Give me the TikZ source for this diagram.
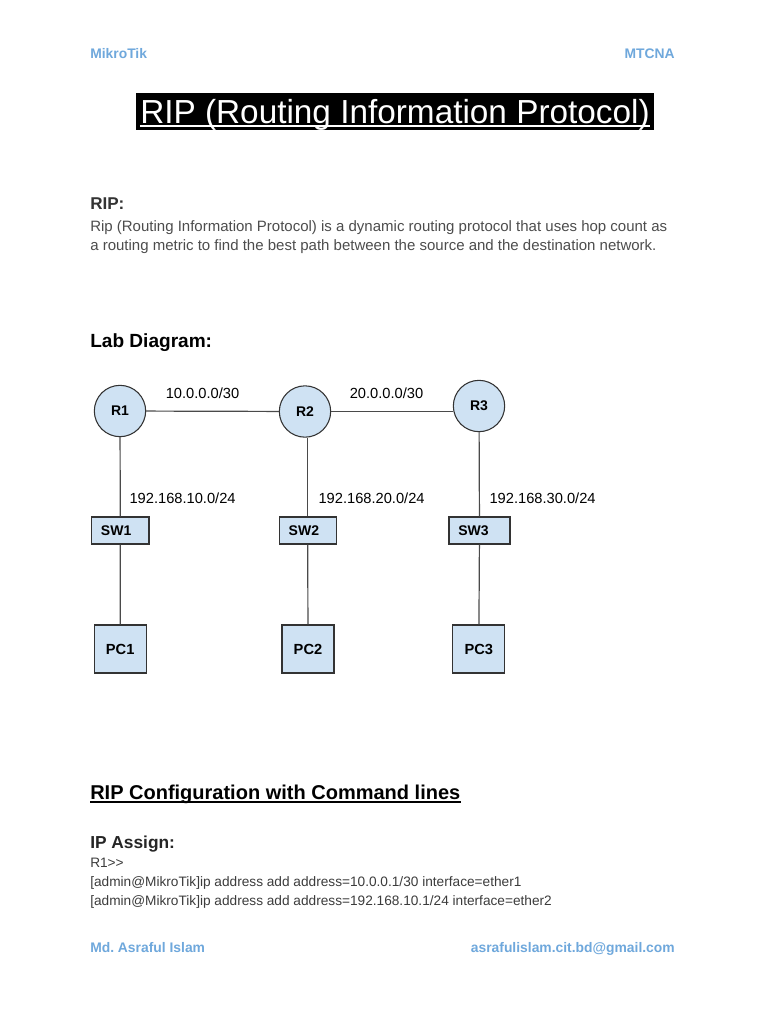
\documentclass[tikz,border=0pt]{standalone}
\usepackage{fontspec}
\setmainfont{Liberation Sans}
\usepackage{xcolor}
\usepackage{tikz}
\usetikzlibrary{positioning,calc}
\definecolor{hdrblue}{HTML}{6FA8DC}
\definecolor{nodefill}{HTML}{CFE2F3}
\definecolor{bodygray}{HTML}{4D4D4D}
\definecolor{headgray}{HTML}{333333}
\definecolor{cmdgray}{HTML}{3C3C3C}
\definecolor{linegray}{HTML}{4A4A4A}

\begin{document}
\begin{tikzpicture}[x=0.75pt, y=-0.75pt, every node/.style={inner sep=0pt},
  hdr/.style={font=\fontsize{10.4}{12}\selectfont\bfseries, text=hdrblue},
  bodytxt/.style={anchor=base west, font=\fontsize{11.25}{13}\selectfont, text=bodygray},
  cmdtxt/.style={anchor=base west, font=\fontsize{10.25}{12}\selectfont, text=cmdgray},
  router/.style={circle, draw=headgray, fill=nodefill, line width=0.8pt, minimum size=38.5pt,
                 font=\fontsize{10.5}{12}\selectfont\bfseries},
  switchbox/.style={draw=headgray, fill=nodefill, line width=0.8pt, minimum height=20.25pt,
                 inner xsep=7pt, text width=#1, align=left, font=\fontsize{10.5}{12}\selectfont\bfseries},
  pcbox/.style={draw=headgray, fill=nodefill, line width=0.8pt, minimum width=39pt, minimum height=36pt,
                 font=\fontsize{11}{13}\selectfont\bfseries},
  netlbl/.style={font=\fontsize{11}{13}\selectfont},
  link/.style={draw=linegray, line width=0.9pt}]
\fill[white] (0,0) rectangle (768,1024);
\useasboundingbox (0,0) rectangle (768,1024);

% page header
\node[hdr, anchor=base west] (brand) at (90,59) {MikroTik};
\node[hdr, anchor=base east] (course) at (675,59) {MTCNA};

% title bar
\fill[black] (136,93) rectangle (654,129.5);
\node[anchor=base, font=\fontsize{25}{30}\selectfont, text=white] (title) at (395,123) {RIP (Routing Information Protocol)};
\draw[white, line width=1.5pt] ([yshift=-2.3pt]title.base west) -- ([yshift=-2.3pt]title.base east);

% intro
\node[anchor=base west, font=\fontsize{12.8}{15}\selectfont\bfseries, text=headgray] (riphead) at (90,209) {RIP:};
\node[bodytxt] (para1) at (90,231) {Rip (Routing Information Protocol) is a dynamic routing protocol that uses hop count as};
\node[bodytxt] (para2) at (90,250) {a routing metric to find the best path between the source and the destination network.};

\node[anchor=base west, font=\fontsize{14.3}{17}\selectfont\bfseries] (labhead) at (90,347) {Lab Diagram:};

% lab diagram
\foreach \i/\xr/\yr/\xs/\ws/\xp in {1/120/411/120.3/29pt/120.2, 2/305/411.5/307.7/28.5pt/308, 3/479/406/479.5/31.75pt/478.8} {
  \node[router] (r\i) at (\xr,\yr) {R\i};
  \node[switchbox=\ws] (sw\i) at (\xs,530.5) {SW\i};
  \node[pcbox] (pc\i) at (\xp,649) {PC\i};
  \draw[link] (sw\i) -- (pc\i);
}
\draw[link] (r1) -- (r2);
\draw[link] (r2.east) -- (r2.east -| r3.west);
\draw[link] (r1) -- (sw1);
\draw[link] (r2.south -| sw2.north) -- (sw2.north);
\draw[link] (r3) -- (sw3);

\node[netlbl, anchor=base] (net12) at (202.5,398) {10.0.0.0/30};
\node[netlbl, anchor=base] (net23) at (386.5,398) {20.0.0.0/30};
\node[netlbl, anchor=base west] (lan1) at (129.3,503) {192.168.10.0/24};
\node[netlbl, anchor=base west] (lan2) at (318.3,503) {192.168.20.0/24};
\node[netlbl, anchor=base west] (lan3) at (489.3,503) {192.168.30.0/24};

% configuration
\node[anchor=base west, font=\fontsize{15}{18}\selectfont\bfseries] (cfghead) at (90,799) {RIP Configuration with Command lines};
\draw[line width=1.1pt] ([yshift=-2.2pt]cfghead.base west) -- ([yshift=-2.2pt]cfghead.base east);
\node[anchor=base west, font=\fontsize{13}{15}\selectfont\bfseries, text=black!85] (iphead) at (90,848) {IP Assign:};
\node[cmdtxt] (prompt) at (90,867) {R1>\kern0pt>};
\node[cmdtxt] (cmd1) at (90,886) {[admin@MikroTik]ip address add address=10.0.0.1/30 interface=ether1};
\node[cmdtxt] (cmd2) at (90,905) {[admin@MikroTik]ip address add address=192.168.10.1/24 interface=ether2};

% page footer
\node[hdr, anchor=base west] (author) at (90,952) {Md.\ Asraful Islam};
\node[hdr, anchor=base east] (email) at (675,952) {asrafulislam.cit.bd@gmail.com};
\end{tikzpicture}
\end{document}
